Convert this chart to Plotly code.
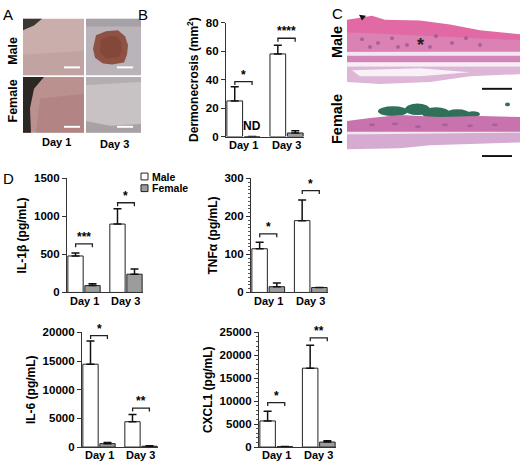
import plotly.graph_objects as go

W, H = 520, 467

# ---------------- data ----------------
days = ["Day 1", "Day 3"]
derm_male = [25, 58]
derm_male_err = [10, 6]
derm_female = [0, 2.5]
derm_female_err = [0, 1.5]
derm_stars = ["*", "****"]
derm_sig_y = [38.5, 69]

il1b_male = [480, 900]
il1b_male_err = [40, 200]
il1b_female = [90, 240]
il1b_female_err = [25, 70]
il1b_stars = ["***", "*"]
il1b_sig_y = [640, 1180]

tnf_male = [115, 189]
tnf_male_err = [17, 54]
tnf_female = [15, 13]
tnf_female_err = [10, 0]
tnf_stars = ["*", "*"]
tnf_sig_y = [154, 268]

il6_male = [14450, 4420]
il6_male_err = [4030, 1260]
il6_female = [600, 150]
il6_female_err = [200, 80]
il6_stars = ["*", "**"]
il6_sig_y = [19450, 6800]

cxcl1_male = [5700, 17200]
cxcl1_male_err = [2100, 5000]
cxcl1_female = [100, 1100]
cxcl1_female_err = [50, 300]
cxcl1_stars = ["*", "**"]
cxcl1_sig_y = [9700, 23800]

FONT = "Liberation Sans, Arial, sans-serif"
MALE_C = "white"
FEMALE_C = "#9c9c9c"


def X(px):
    return px / W


def Y(py):
    return 1 - py / H


fig = go.Figure()
shapes = []
annos = []

panels = [
    ("", derm_male, derm_male_err, derm_female, derm_female_err, derm_stars, derm_sig_y,
     (226, 304), (134, 17), 80, 20, "Dermonecrosis (mm<sup>2</sup>)", None),
    ("2", il1b_male, il1b_male_err, il1b_female, il1b_female_err, il1b_stars, il1b_sig_y,
     (67, 143), (294, 177), 1500, 500, "IL-1β (pg/mL)", None),
    ("3", tnf_male, tnf_male_err, tnf_female, tnf_female_err, tnf_stars, tnf_sig_y,
     (251, 328), (294, 177), 300, 100, "TNFα (pg/mL)", 10),
    ("4", il6_male, il6_male_err, il6_female, il6_female_err, il6_stars, il6_sig_y,
     (82, 158), (452.7, 335), 20000, 5000, "IL-6 (pg/mL)", None),
    ("5", cxcl1_male, cxcl1_male_err, cxcl1_female, cxcl1_female_err, cxcl1_stars, cxcl1_sig_y,
     (259, 336), (452.7, 335), 25000, 5000, "CXCL1 (pg/mL)", 5),
]

xpos = [0, 1]
off = 0.2

for key, m, me, f, fe, stars, sigy, pxr, pyr, ymax, dtick, title, minor in panels:
    xa = "x" + key
    ya = "y" + key
    for vals, errs, col in ((m, me, MALE_C), (f, fe, FEMALE_C)):
        fig.add_trace(go.Bar(
            x=xpos, y=vals, xaxis=xa, yaxis=ya,
            marker=dict(color=col, line=dict(color="#222", width=1)),
            error_y=dict(type="data", symmetric=False, array=errs,
                         arrayminus=[0] * len(errs), color="#111",
                         thickness=1.5, width=4),
            showlegend=False, hoverinfo="skip"))
    yaxis = dict(
        domain=[Y(pyr[0]), Y(pyr[1])], range=[0, ymax], anchor=xa,
        showline=True, linecolor="#333", linewidth=1.2, ticks="outside",
        ticklen=4, tickcolor="#333", tickwidth=1.2, dtick=dtick, tick0=0,
        tickformat="d", showgrid=False, zeroline=False,
        tickfont=dict(family=FONT, size=11.5, color="black", weight="bold"),
        title=dict(text=title, standoff=4,
                   font=dict(family=FONT, size=12, color="black", weight="bold")))
    if minor:
        yaxis["minor"] = dict(ticks="outside", ticklen=2, tickcolor="#555",
                              nticks=minor + 1, showgrid=False)
    xaxis = dict(
        domain=[X(pxr[0]), X(pxr[1])], range=[-0.405, 1.405], anchor=ya,
        showline=True, linecolor="#333", linewidth=1.2, ticks="",
        showticklabels=False, showgrid=False, zeroline=False)
    n = key if key else ""
    fig.layout["xaxis" + n] = xaxis
    fig.layout["yaxis" + n] = yaxis

    for i, dname in enumerate(days):
        annos.append(dict(x=xpos[i], y=Y(pyr[0] + 8.5), xref=xa, yref="paper", text=dname,
                          showarrow=False, yanchor="middle",
                          font=dict(family=FONT, size=11, color="black", weight="bold")))

    hpx = pyr[0] - pyr[1]
    d = ymax / hpx * 3.5
    for i, (s, yy) in enumerate(zip(stars, sigy)):
        x0, x1 = xpos[i] - off, xpos[i] + off
        shapes.append(dict(type="path", xref=xa, yref=ya,
                           path=f"M {x0},{yy - d} L {x0},{yy} L {x1},{yy} L {x1},{yy - d}",
                           line=dict(color="#222", width=1.3)))
        annos.append(dict(x=xpos[i], y=yy, xref=xa, yref=ya, text=s, showarrow=False,
                          yanchor="bottom", yshift=-2,
                          font=dict(family=FONT, size=12, color="black", weight="bold")))

annos.append(dict(x=xpos[0] + off, y=0, xref="x", yref="y", text="ND", showarrow=False,
                  yanchor="bottom", yshift=2,
                  font=dict(family=FONT, size=12, color="black", weight="bold")))

# ---------------- legend (panel D) ----------------
for j, (lab, col) in enumerate((("Male", MALE_C), ("Female", FEMALE_C))):
    yc = 175 + j * 12
    shapes.append(dict(type="rect", xref="paper", yref="paper",
                       x0=X(141), x1=X(148), y0=Y(yc + 3.5), y1=Y(yc - 3.5),
                       fillcolor=col, line=dict(color="#222", width=1)))
    annos.append(dict(x=X(151), y=Y(yc), xref="paper", yref="paper", text=lab,
                      showarrow=False, xanchor="left", yanchor="middle", borderpad=0,
                      font=dict(family=FONT, size=10.5, color="black", weight="bold")))


def rect(x0, y0, x1, y1, col, op=1.0):
    shapes.append(dict(type="rect", xref="paper", yref="paper", x0=X(x0), x1=X(x1),
                       y0=Y(y1), y1=Y(y0), fillcolor=col, opacity=op,
                       line=dict(width=0), layer="below"))


def circ(x0, y0, x1, y1, col, op=1.0):
    shapes.append(dict(type="circle", xref="paper", yref="paper", x0=X(x0), x1=X(x1),
                       y0=Y(y1), y1=Y(y0), fillcolor=col, opacity=op,
                       line=dict(width=0), layer="below"))


def poly(pts, col, op=1.0):
    p = "M " + " L ".join(f"{X(a)},{Y(b)}" for a, b in pts) + " Z"
    shapes.append(dict(type="path", xref="paper", yref="paper", path=p, fillcolor=col,
                       opacity=op, line=dict(width=0), layer="below"))


# ---------------- panel A : photo approximations ----------------
rect(23, 13, 84, 71, "#c9aeac")
poly([(23, 13), (42, 13), (34, 20), (23, 25)], "#3b3632")
poly([(23, 50), (84, 46), (84, 71), (23, 71)], "#bd9c99", 0.6)
rect(86, 13, 141, 71, "#bab4ba")
rect(86, 13, 141, 21, "#8f8a90", 0.45)
poly([(96, 30), (106, 26), (118, 25), (125, 31), (128, 40), (127, 50), (124, 58),
      (112, 60), (103, 59), (95, 53), (93, 44)], "#8e5244")
poly([(101, 34), (110, 31), (117, 31), (121, 37), (122, 45), (119, 52), (106, 54),
      (100, 48)], "#7c4034", 0.55)
rect(23, 73, 84, 130, "#bb9190")
poly([(23, 73), (44, 73), (34, 85), (30, 105), (31, 130), (23, 130)], "#2b2723")
poly([(40, 95), (84, 90), (84, 130), (36, 130)], "#a87674", 0.45)
rect(86, 73, 141, 130, "#c9c2c5")
poly([(86, 118), (110, 123), (141, 121), (141, 130), (86, 130)], "#8e878b", 0.55)
poly([(86, 73), (141, 73), (141, 78), (86, 81)], "#a29ca0", 0.55)
for (sx, sy) in ((64, 63), (117, 63), (64, 124), (117, 124)):
    rect(sx, sy - 1, sx + 16, sy + 1, "white")

# ---------------- panel C : histology approximations ----------------
poly([(347, 14), (360, 12), (372, 10), (385, 14), (420, 15), (450, 19), (480, 25), (520, 29),
      (520, 50), (347, 48)], "#e26aa4")
poly([(347, 27), (520, 35), (520, 48), (347, 46)], "#d985b6", 0.85)
for (cx, cy) in ((362, 34), (378, 38), (392, 33), (407, 40), (420, 36), (436, 31), (452, 38),
                 (466, 33), (480, 40), (398, 42), (430, 42), (370, 42)):
    circ(cx - 2, cy - 2, cx + 2, cy + 2, "#8a4a8e", 0.6)
rect(347, 47, 520, 51, "#f2e6f0")
rect(347, 51, 520, 58, "#d384b8")
rect(347, 58, 520, 62, "#f6eef4")
poly([(347, 62), (520, 62), (520, 70), (470, 72), (430, 78), (380, 80), (347, 78)], "#ddb6d8")
poly([(352, 66), (420, 64), (470, 68), (420, 72), (360, 72)], "#f8f2f7")
for (gx0, gy0, gx1, gy1) in ((378, 103, 408, 113), (405, 100, 430, 112), (422, 104, 450, 116),
                             (445, 106, 470, 116), (466, 108, 480, 114), (505, 99, 510, 103)):
    circ(gx0, gy0, gx1, gy1, "#2f7059")
poly([(347, 118), (370, 115), (400, 112), (440, 114), (480, 113), (520, 114),
      (520, 130), (347, 132)], "#c873ad")
rect(347, 129, 520, 132, "#f3e7f1")
poly([(347, 132), (520, 130), (520, 140), (430, 143), (400, 146), (347, 147)], "#d5abd1")
for (cx, cy) in ((372, 122), (395, 121), (418, 124), (445, 122), (470, 123), (495, 122)):
    circ(cx - 3, cy - 1.5, cx + 3, cy + 1.5, "#8a4a8c", 0.5)
poly([(359, 9), (366, 10), (362, 15)], "#111")
rect(482, 84, 512, 86, "#111")
rect(482, 153, 512, 155, "#111")
annos.append(dict(x=X(426), y=Y(28), xref="paper", yref="paper", text="*", showarrow=False,
                  font=dict(family=FONT, size=18, color="#222", weight="bold")))


def txt(px, py, s, size=12, bold=True, angle=0, xa="center"):
    annos.append(dict(x=X(px), y=Y(py), xref="paper", yref="paper", text=s, showarrow=False,
                      textangle=angle, xanchor=xa, yanchor="middle",
                      font=dict(family=FONT, size=size, color="black",
                                weight="bold" if bold else "normal")))


txt(8, 9, "A", 15, False)
txt(143, 9, "B", 15, False)
txt(337, 8, "C", 15, False)
txt(8, 177, "D", 15, False)
txt(13, 46, "Male", 12.5, True, -90)
txt(13, 98, "Female", 12.5, True, -90)
txt(56, 140, "Day 1", 11)
txt(114, 142, "Day 3", 11)
txt(337, 37, "Male", 14.5, True, -90)
txt(337, 116, "Female", 14.5, True, -90)

fig.update_layout(
    width=W, height=H, margin=dict(l=0, r=0, t=0, b=0),
    paper_bgcolor="white", plot_bgcolor="rgba(0,0,0,0)",
    barmode="group", bargap=0.19, bargroupgap=0.1,
    shapes=shapes, annotations=annos, showlegend=False,
    font=dict(family=FONT, color="black"),
)

fig.write_html("out.html", config={"displayModeBar": False},
               post_script="document.body.style.margin='0';document.body.style.overflow='hidden';")
